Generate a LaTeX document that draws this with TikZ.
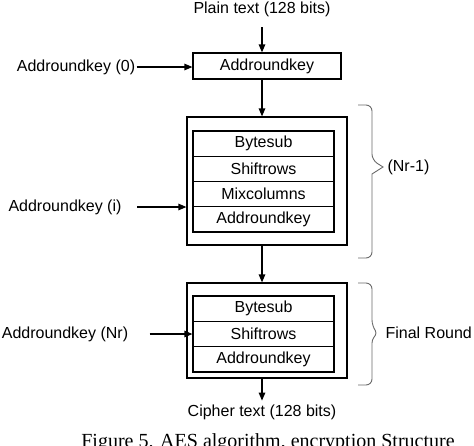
\documentclass[tikz,border=0pt]{standalone}
\usepackage{fontspec}
\setmainfont{Liberation Sans}
\newfontfamily\captionserif{Liberation Serif}
\usepackage{xcolor}
\usetikzlibrary{arrows.meta}
\definecolor{bracegray}{RGB}{105, 105, 105}

\begin{document}
\begin{tikzpicture}[x = 1pt, y = -1pt, font = \fontsize{16}{19}\selectfont,
		line width = 1.2pt, >={Triangle[length = 8pt, width = 6.5pt]},
		stage/.style = {draw, inner sep = 0pt, minimum width = 160pt},
		row/.style = {draw, inner sep = 0pt, minimum width = 141pt, minimum height = 25.3pt},
		brace/.style = {draw = bracegray, line width = 0.9pt}]
			\useasboundingbox (0,0) rectangle (474,445);
			% input and first key
			\node (plain) at (262,9) {Plain text (128 bits)};
			\node (ark0) at (267,66) [draw, inner sep = 0pt, minimum width = 148pt, minimum height = 26pt] {Addroundkey};
			\node (k0) at (76,67) [inner sep = 1pt] {Addroundkey (0)};
			% rounds 1 .. Nr-1
			\node (box1) at (267,181) [stage, minimum height = 128pt] {};
			\node (bs1) at (263.5,143.6) [row] {Bytesub};
			\node (sr1) at (263.5,168.9) [row] {Shiftrows};
			\node (mc1) at (263.5,194.1) [row] {Mixcolumns};
			\node (ak1) at (263.5,219.4) [row] {Addroundkey};
			\node (ki) at (65,207) [inner sep = 1pt] {Addroundkey (i)};
			% final round
			\node (box2) at (267,330.5) [stage, minimum height = 95pt] {};
			\node (bs2) at (263.5,308.7) [row] {Bytesub};
			\node (sr2) at (263.5,334) [row] {Shiftrows};
			\node (ak2) at (263.5,359.3) [row] {Addroundkey};
			\node (kNr) at (65,334) [inner sep = 1pt] {Addroundkey (Nr)};
			\node (cipher) at (262,412) {Cipher text (128 bits)};
			\node (nr) at (386,167) [anchor = west, inner sep = 1pt] {(Nr-1)};
			\node (final) at (384,333) [anchor = west, inner sep = 1pt] {Final Round};
			\node (caption) at (268,447) [anchor = base, inner sep = 0pt, font = \captionserif\fontsize{20}{24}\selectfont] {Figure 5. AES algorithm, encryption Structure};
			% arrows
			\draw[->] ([yshift = -7pt]plain.south) -- (plain |- ark0.north);
			\draw[->] (k0.east) -- (k0 -| ark0.west);
			\draw[->] (ark0.south -| plain) -- (box1.north -| plain);
			\draw[->] ([xshift = 14pt]ki.east) -- (ki -| box1.west);
			\draw[->] (box1.south -| plain) -- (box2.north -| plain);
			\draw[->] ([xshift = 20pt]kNr.east) -- (sr2.west);
			\draw[->] (box2.south -| cipher) -- (cipher.north);
			% braces
			\draw[brace, rounded corners = 6pt] (358,105) -- (372,105) -- (372,160)
				[sharp corners] -- (383,167) -- (372,174) [rounded corners = 6pt] -- (372,258) -- (358,258);
			\draw[brace, rounded corners = 6pt] (358,283) -- (372,283) -- (372,326)
				[rounded corners = 3pt] -- (377,333) -- (372,340) [rounded corners = 6pt] -- (372,385) -- (358,385);
			\end{tikzpicture}
\end{document}
